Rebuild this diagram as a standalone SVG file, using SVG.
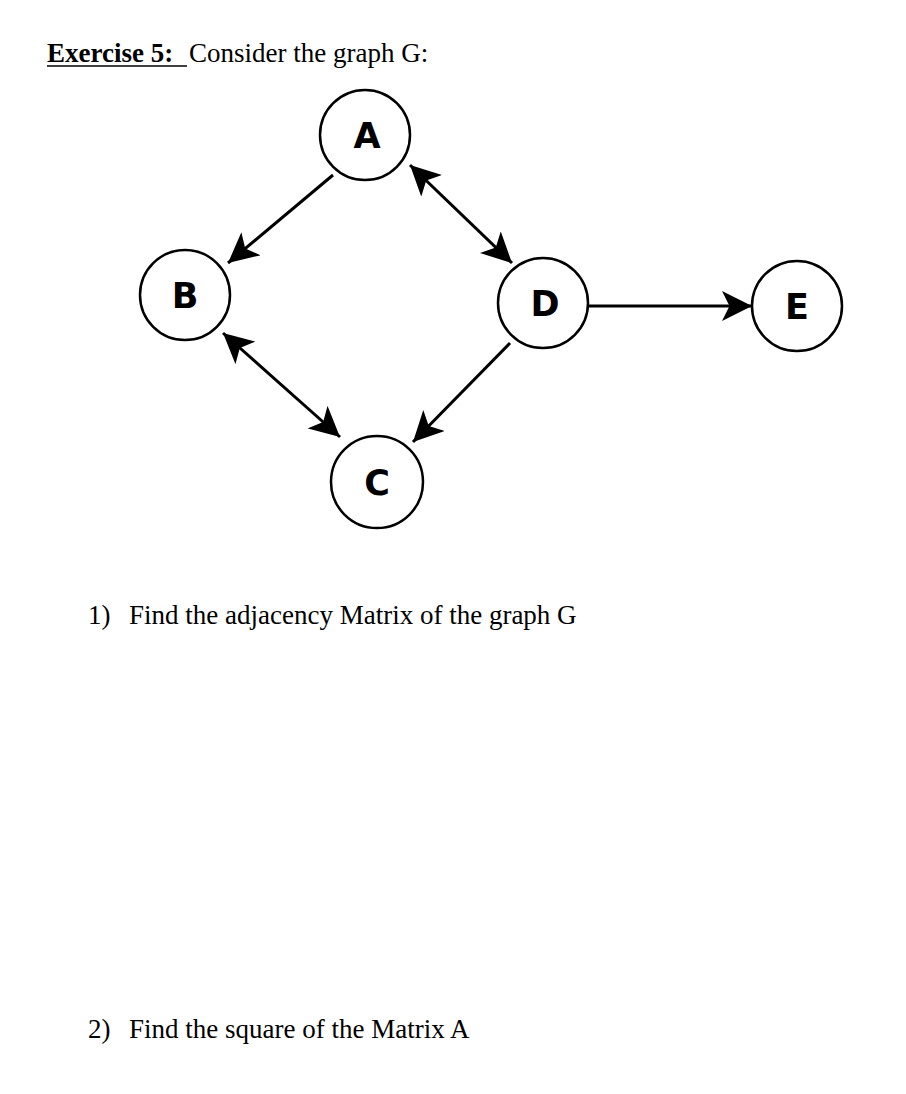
<svg xmlns="http://www.w3.org/2000/svg" width="906" height="1094" viewBox="0 0 906 1094">
<style>
.t{font-family:"Liberation Serif",serif;font-size:27px;fill:#000}
.n{fill:#fff;stroke:#000;stroke-width:2.5}
.l{font-family:"DejaVu Sans",sans-serif;font-weight:bold;font-size:35px;text-anchor:middle;fill:#000}
.e{stroke:#000;stroke-width:3;fill:none}
</style>
<defs>
<marker id="ahb" viewBox="0 0 10 10" refX="10" refY="5" markerWidth="30" markerHeight="30" markerUnits="userSpaceOnUse" orient="auto-start-reverse">
<path d="M0,0 L10,5 L0,10 L2.5,5 Z" fill="#000"/>
</marker>
</defs>
<rect width="906" height="1094" fill="#fff"/>
<text class="t" x="47" y="62" font-weight="bold">Exercise 5:</text>
<text class="t" x="189" y="62">Consider the graph G:</text>
<line x1="47" y1="66" x2="187" y2="66" stroke="#000" stroke-width="1.5"/>
<g id="connectors">
<line class="e" x1="333" y1="175" x2="228" y2="263" marker-end="url(#ahb)"/>
<line class="e" x1="410" y1="165" x2="512" y2="263" marker-start="url(#ahb)" marker-end="url(#ahb)"/>
<line class="e" x1="223" y1="333" x2="340" y2="437" marker-start="url(#ahb)" marker-end="url(#ahb)"/>
<line class="e" x1="510" y1="343" x2="413" y2="442" marker-end="url(#ahb)"/>
<line class="e" x1="589" y1="306" x2="752" y2="306" marker-end="url(#ahb)"/>
</g>
<g id="A"><circle class="n" cx="365" cy="135" r="45"/><text class="l" x="367" y="148">A</text></g>
<g id="B"><circle class="n" cx="185" cy="295" r="45"/><text class="l" x="185" y="308">B</text></g>
<g id="D"><circle class="n" cx="543" cy="303" r="45"/><text class="l" x="545" y="316">D</text></g>
<g id="C"><circle class="n" cx="377" cy="482" r="46"/><text class="l" x="377" y="495">C</text></g>
<g id="E"><circle class="n" cx="797" cy="306" r="45"/><text class="l" x="797" y="319">E</text></g>
<text class="t" x="88" y="624">1)</text>
<text class="t" x="129" y="624">Find the adjacency Matrix of the graph G</text>
<text class="t" x="88" y="1038">2)</text>
<text class="t" x="129" y="1038">Find the square of the Matrix A</text>
</svg>
